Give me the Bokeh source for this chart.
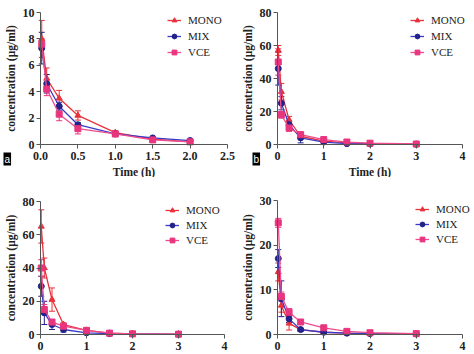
from bokeh.plotting import figure
from bokeh.layouts import gridplot
from bokeh.models import Whisker, TeeHead, ColumnDataSource, Legend, LegendItem, Label, FixedTicker, NumeralTickFormatter
from bokeh.embed import file_html
from bokeh.resources import INLINE

series = ["MONO", "MIX", "VCE"]
colors = {"MONO": "#e8323c", "MIX": "#22228a", "VCE": "#e8357e"}
line_colors = {"MONO": "#e8323c", "MIX": "#3a3ac8", "VCE": "#ee4c8c"}
markers = {"MONO": "triangle", "MIX": "circle", "VCE": "square"}

t_a = [0.0167, 0.0833, 0.25, 0.5, 1.0, 1.5, 2.0]
t_b = [0.0167, 0.0833, 0.25, 0.5, 1.0, 1.5, 2.0, 3.0]

a_mean = {"MONO": [8.0, 5.0, 3.5, 2.2, 0.9, 0.4, 0.2],
          "MIX": [7.3, 4.6, 2.9, 1.5, 0.8, 0.5, 0.3],
          "VCE": [7.6, 4.2, 2.3, 1.2, 0.8, 0.35, 0.2]}
a_err = {"MONO": [1.4, 0.8, 0.6, 0.35, 0.15, 0.05, 0.05],
         "MIX": [1.2, 0.7, 0.3, 0.15, 0.1, 0.05, 0.05],
         "VCE": [0.4, 0.5, 0.5, 0.4, 0.2, 0.1, 0.05]}

b_mean = {"MONO": [57, 32, 15, 5, 2, 1, 0.5, 0.2],
          "MIX": [46, 25, 12, 4, 1.5, 0.5, 0.3, 0.1],
          "VCE": [50, 18, 10, 6, 3, 1.5, 0.8, 0.3]}
b_err = {"MONO": [3, 5, 2, 1, 0.5, 0.3, 0.2, 0.1],
         "MIX": [10, 4, 2, 3, 0.5, 0.2, 0.1, 0.05],
         "VCE": [8, 2, 2, 1, 0.5, 0.3, 0.2, 0.1]}

c_mean = {"MONO": [65, 40, 21, 6, 2.5, 0.8, 0.4, 0.2],
          "MIX": [29, 13, 6, 3, 1, 0.5, 0.3, 0.1],
          "VCE": [40, 15, 7.5, 5, 2.5, 0.8, 0.4, 0.2]}
c_err = {"MONO": [10, 6, 7, 1, 0.5, 0.2, 0.1, 0.05],
         "MIX": [6, 7, 3, 1.5, 0.5, 0.2, 0.1, 0.05],
         "VCE": [5, 3, 1.5, 1, 0.5, 0.2, 0.1, 0.05]}

d_mean = {"MONO": [14, 6.5, 2.5, 1.1, 0.5, 0.3, 0.2, 0.1],
          "MIX": [17, 8, 3.5, 1.1, 0.5, 0.3, 0.2, 0.1],
          "VCE": [25, 8.5, 5, 2.8, 1.5, 0.7, 0.4, 0.2]}
d_err = {"MONO": [2, 1.5, 1.5, 0.3, 0.2, 0.1, 0.05, 0.05],
         "MIX": [2, 4, 0.8, 0.2, 0.1, 0.05, 0.05, 0.05],
         "VCE": [1, 1, 0.8, 0.5, 0.3, 0.2, 0.1, 0.05]}

a_xticks = [0, 0.5, 1.0, 1.5, 2.0, 2.5]
b_xticks = [0, 1, 2, 3, 4]
a_yticks = [0, 2, 4, 6, 8, 10]
b_yticks = [0, 20, 40, 60, 80]
d_yticks = [0, 10, 20, 30]

FONT = "Liberation Serif"
TXT = "#222222"
W, H = 237, 177


def panel(t, mean, err, xmax, ymax, xticks, yticks, xfmt, origin, xend, ytop,
          xlabel, tag, leg_loc, leg_spacing):
    ox, oy = origin
    xs = (xend - ox) / xmax          # px per x unit
    ys = (oy - ytop) / ymax          # px per y unit
    x0 = -ox / xs
    x1 = (W - ox) / xs
    y0 = -(H - oy) / ys
    y1 = oy / ys
    p = figure(width=W, height=H, output_backend="svg", toolbar_location=None,
               title=None, x_range=(x0, x1), y_range=(y0, y1),
               min_border=0, min_border_left=0, min_border_right=0,
               min_border_top=0, min_border_bottom=0)
    p.xgrid.visible = False
    p.ygrid.visible = False
    p.outline_line_color = None
    p.xaxis.fixed_location = 0
    p.yaxis.fixed_location = 0
    p.xaxis.bounds = (0, xmax)
    p.yaxis.bounds = (0, ymax)
    p.xaxis.ticker = FixedTicker(ticks=xticks)
    p.yaxis.ticker = FixedTicker(ticks=yticks)
    p.xaxis.formatter = NumeralTickFormatter(format=xfmt)
    for ax in (p.xaxis, p.yaxis):
        ax.axis_line_color = "#555555"
        ax.major_tick_line_color = "#555555"
        ax.major_tick_out = 4
        ax.major_tick_in = 0
        ax.minor_tick_line_color = None
        ax.major_label_text_font = FONT
        ax.major_label_text_font_size = "12px"
        ax.major_label_text_font_style = "bold"
        ax.major_label_text_color = TXT
        ax.axis_label_text_font = FONT
        ax.axis_label_text_font_size = "11.5px"
        ax.axis_label_text_font_style = "bold"
        ax.axis_label_text_color = TXT
    p.xaxis.major_label_standoff = 3
    p.yaxis.major_label_standoff = 2
    p.yaxis.axis_label = "concentration (μg/ml)"
    p.yaxis.axis_label_standoff = 3
    if xlabel:
        p.xaxis.axis_label = xlabel
        p.xaxis.axis_label_standoff = 3
    items = []
    for s in series:
        m = mean[s]
        e = err[s]
        src = ColumnDataSource(dict(t=t, m=m,
                                    lo=[a - b for a, b in zip(m, e)],
                                    hi=[a + b for a, b in zip(m, e)]))
        w = Whisker(source=src, base="t", lower="lo", upper="hi",
                    line_color=colors[s], line_width=1,
                    upper_head=TeeHead(size=6, line_color=colors[s], line_width=1),
                    lower_head=TeeHead(size=6, line_color=colors[s], line_width=1))
        p.add_layout(w)
        r1 = p.line("t", "m", source=src, line_color=line_colors[s], line_width=1.3)
        r2 = p.scatter("t", "m", source=src, marker=markers[s], size=6,
                       fill_color=colors[s], line_color=colors[s])
        items.append(LegendItem(label=s, renderers=[r1, r2]))
    leg = Legend(items=items, location=leg_loc, border_line_color=None,
                 background_fill_alpha=0, label_text_font=FONT,
                 label_text_font_size="11px", label_text_color=TXT,
                 glyph_width=14, glyph_height=12, spacing=leg_spacing, padding=0,
                 margin=0, label_standoff=7, label_height=12)
    p.add_layout(leg)
    if tag:
        tx, ty = tag[1], tag[2]
        lab = Label(x=(tx - ox) / xs, y=(oy - ty) / ys, x_units="data", y_units="data",
                    text=tag[0], text_color="white", background_fill_color="black",
                    text_font="Liberation Sans", text_font_size="10px",
                    text_baseline="top", text_align="left", padding=1)
        p.add_layout(lab)
    return p


pa = panel(t_a, a_mean, a_err, 2.5, 10, a_xticks, a_yticks, "0.0", (40, 144), 227, 12,
           "Time (h)", ("a", 3, 152), (167, 119), 4)
pb = panel(t_b, b_mean, b_err, 4, 80, b_xticks, b_yticks, "0", (40, 144), 225, 12,
           "Time (h)", ("b", 15, 152), (173, 119), 4)
pc = panel(t_b, c_mean, c_err, 4, 80, b_xticks, b_yticks, "0", (40, 157), 224, 24,
           None, None, (165, 108), 3)
pd_ = panel(t_b, d_mean, d_err, 4, 30, b_xticks, d_yticks, "0", (40, 157), 225, 23,
            None, None, (178, 109), 3)

grid = gridplot([[pa, pb], [pc, pd_]], toolbar_location=None)
open("out.html", "w").write(file_html(grid, INLINE))
